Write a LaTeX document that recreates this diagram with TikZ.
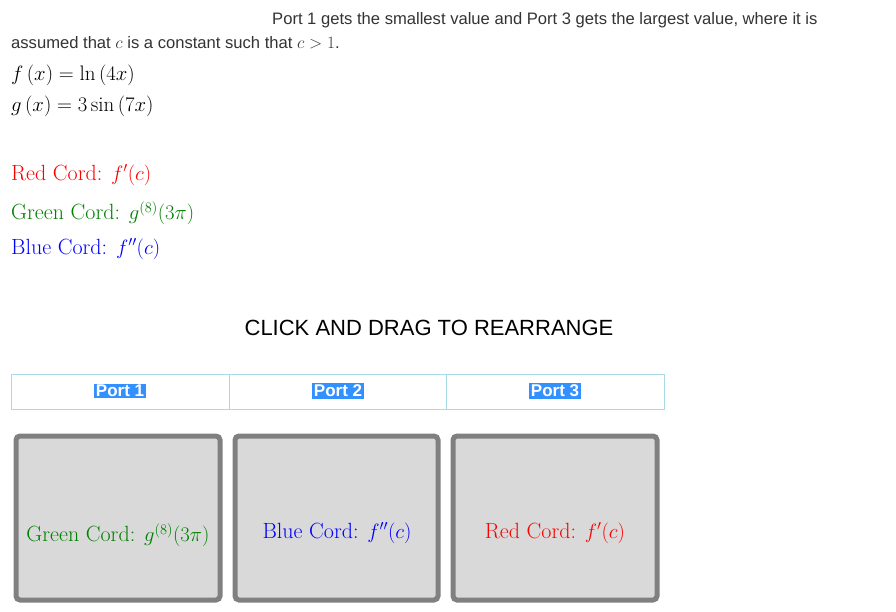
\documentclass[tikz,border=0pt]{standalone}
\usepackage{fontspec}
\setsansfont{Liberation Sans}
\definecolor{dgreen}{RGB}{0,128,0}
\definecolor{tline}{RGB}{168,219,230}
\definecolor{hl}{RGB}{51,144,255}
\definecolor{boxgray}{RGB}{128,128,128}
\definecolor{boxfill}{RGB}{217,217,217}
\begin{document}
\begin{tikzpicture}[x=1pt,y=-1pt,
  body/.style={font=\fontsize{16.6}{20}\sffamily, text=black!80, inner sep=0, anchor=base west},
  mathl/.style={font=\fontsize{21}{25}\selectfont, inner sep=0, anchor=west},
  cord/.style={font=\fontsize{22}{26}\selectfont, inner sep=0},
  port/.style={font=\fontsize{17}{20}\sffamily\bfseries, text=white, fill=hl, inner sep=1.5pt},
  card/.style={draw=boxgray, line width=5pt, fill=boxfill, rounded corners=4pt}]
\useasboundingbox (0,0) rectangle (896,612);
\node[body] (l1) at (272,25) {Port 1 gets the smallest value and Port 3 gets the largest value, where it is};
\node[body] (l2) at (11,49) {assumed that $c$ is a constant such that $c>1$.};
\node[mathl] (f) at (11,75) {$f\left(x\right)=\ln\left(4x\right)$};
\node[mathl] (g) at (11,106) {$g\left(x\right)=3\sin\left(7x\right)$};
\node[cord, anchor=west, text=red] (r) at (11,175) {Red Cord: $f'(c)$};
\node[cord, anchor=west, text=dgreen] (gc) at (11,213) {Green Cord: $g^{(8)}(3\pi)$};
\node[cord, anchor=west, text=blue] (b) at (11,249) {Blue Cord: $f''(c)$};
\node[font=\fontsize{22}{26}\sffamily, inner sep=0] (title) at (429,328) {CLICK AND DRAG TO REARRANGE};
\draw[tline, line width=1pt] (11,374) rectangle (664,409);
\draw[tline, line width=1pt] (229,374) -- (229,409) (446,374) -- (446,409);
\node[port] (p1) at (120,391) {Port 1};
\node[port] (p2) at (338,391) {Port 2};
\node[port] (p3) at (555,391) {Port 3};
\draw[card] (16,436) rectangle (220,600);
\draw[card] (235,436) rectangle (438,600);
\draw[card] (453,436) rectangle (657,600);
\node[cord, text=dgreen] (c1) at (118,535) {Green Cord: $g^{(8)}(3\pi)$};
\node[cord, text=blue] (c2) at (337,533) {Blue Cord: $f''(c)$};
\node[cord, text=red] (c3) at (555,533) {Red Cord: $f'(c)$};
\end{tikzpicture}
\end{document}
